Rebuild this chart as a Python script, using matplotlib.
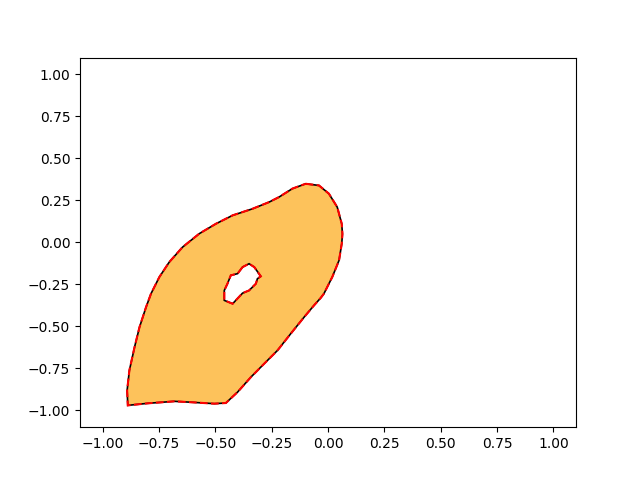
import matplotlib

matplotlib.use("Agg")
import matplotlib.pyplot as plt
from matplotlib.path import Path
from matplotlib.patches import PathPatch

# outer boundary of the shape (x, y), clockwise from the top
outer_x = [-0.099, -0.040, 0.004, 0.041, 0.061, 0.064, 0.061, 0.049, 0.019, -0.018,
           -0.032, -0.062, -0.106, -0.165, -0.224, -0.283, -0.342, -0.401, -0.453,
           -0.504, -0.600, -0.681, -0.800, -0.888, -0.891, -0.881, -0.858, -0.836,
           -0.807, -0.785, -0.748, -0.704, -0.645, -0.571, -0.497, -0.423, -0.335,
           -0.261, -0.217, -0.158]
outer_y = [0.349, 0.339, 0.290, 0.210, 0.111, 0.050, -0.008, -0.107, -0.206, -0.305,
           -0.330, -0.375, -0.445, -0.543, -0.643, -0.722, -0.802, -0.891, -0.956,
           -0.960, -0.952, -0.946, -0.958, -0.970, -0.881, -0.762, -0.623, -0.504,
           -0.385, -0.305, -0.206, -0.117, -0.028, 0.052, 0.111, 0.161, 0.200,
           0.240, 0.270, 0.320]

# inner hole
hole_x = [-0.350, -0.327, -0.298, -0.313, -0.320, -0.350, -0.379, -0.423, -0.460,
          -0.460, -0.446, -0.431, -0.401, -0.379]
hole_y = [-0.127, -0.147, -0.202, -0.216, -0.246, -0.286, -0.302, -0.365, -0.345,
          -0.286, -0.246, -0.196, -0.186, -0.147]


def ring(xs, ys):
    verts = list(zip(xs, ys)) + [(xs[0], ys[0])]
    codes = [Path.MOVETO] + [Path.LINETO] * (len(xs) - 1) + [Path.CLOSEPOLY]
    return verts, codes


v1, c1 = ring(outer_x, outer_y)
v2, c2 = ring(hole_x[::-1], hole_y[::-1])
path = Path(v1 + v2, c1 + c2)

fig, ax = plt.subplots(figsize=(6.4, 4.8), dpi=100)
ax.add_patch(PathPatch(path, facecolor="#fdc25b", edgecolor="black", lw=1.2))
ax.add_patch(PathPatch(path, facecolor="none", edgecolor="red", lw=1.5, linestyle="--"))

ax.set_xlim(-1.1, 1.1)
ax.set_ylim(-1.1, 1.1)

fig.savefig("out.png", dpi=100)
